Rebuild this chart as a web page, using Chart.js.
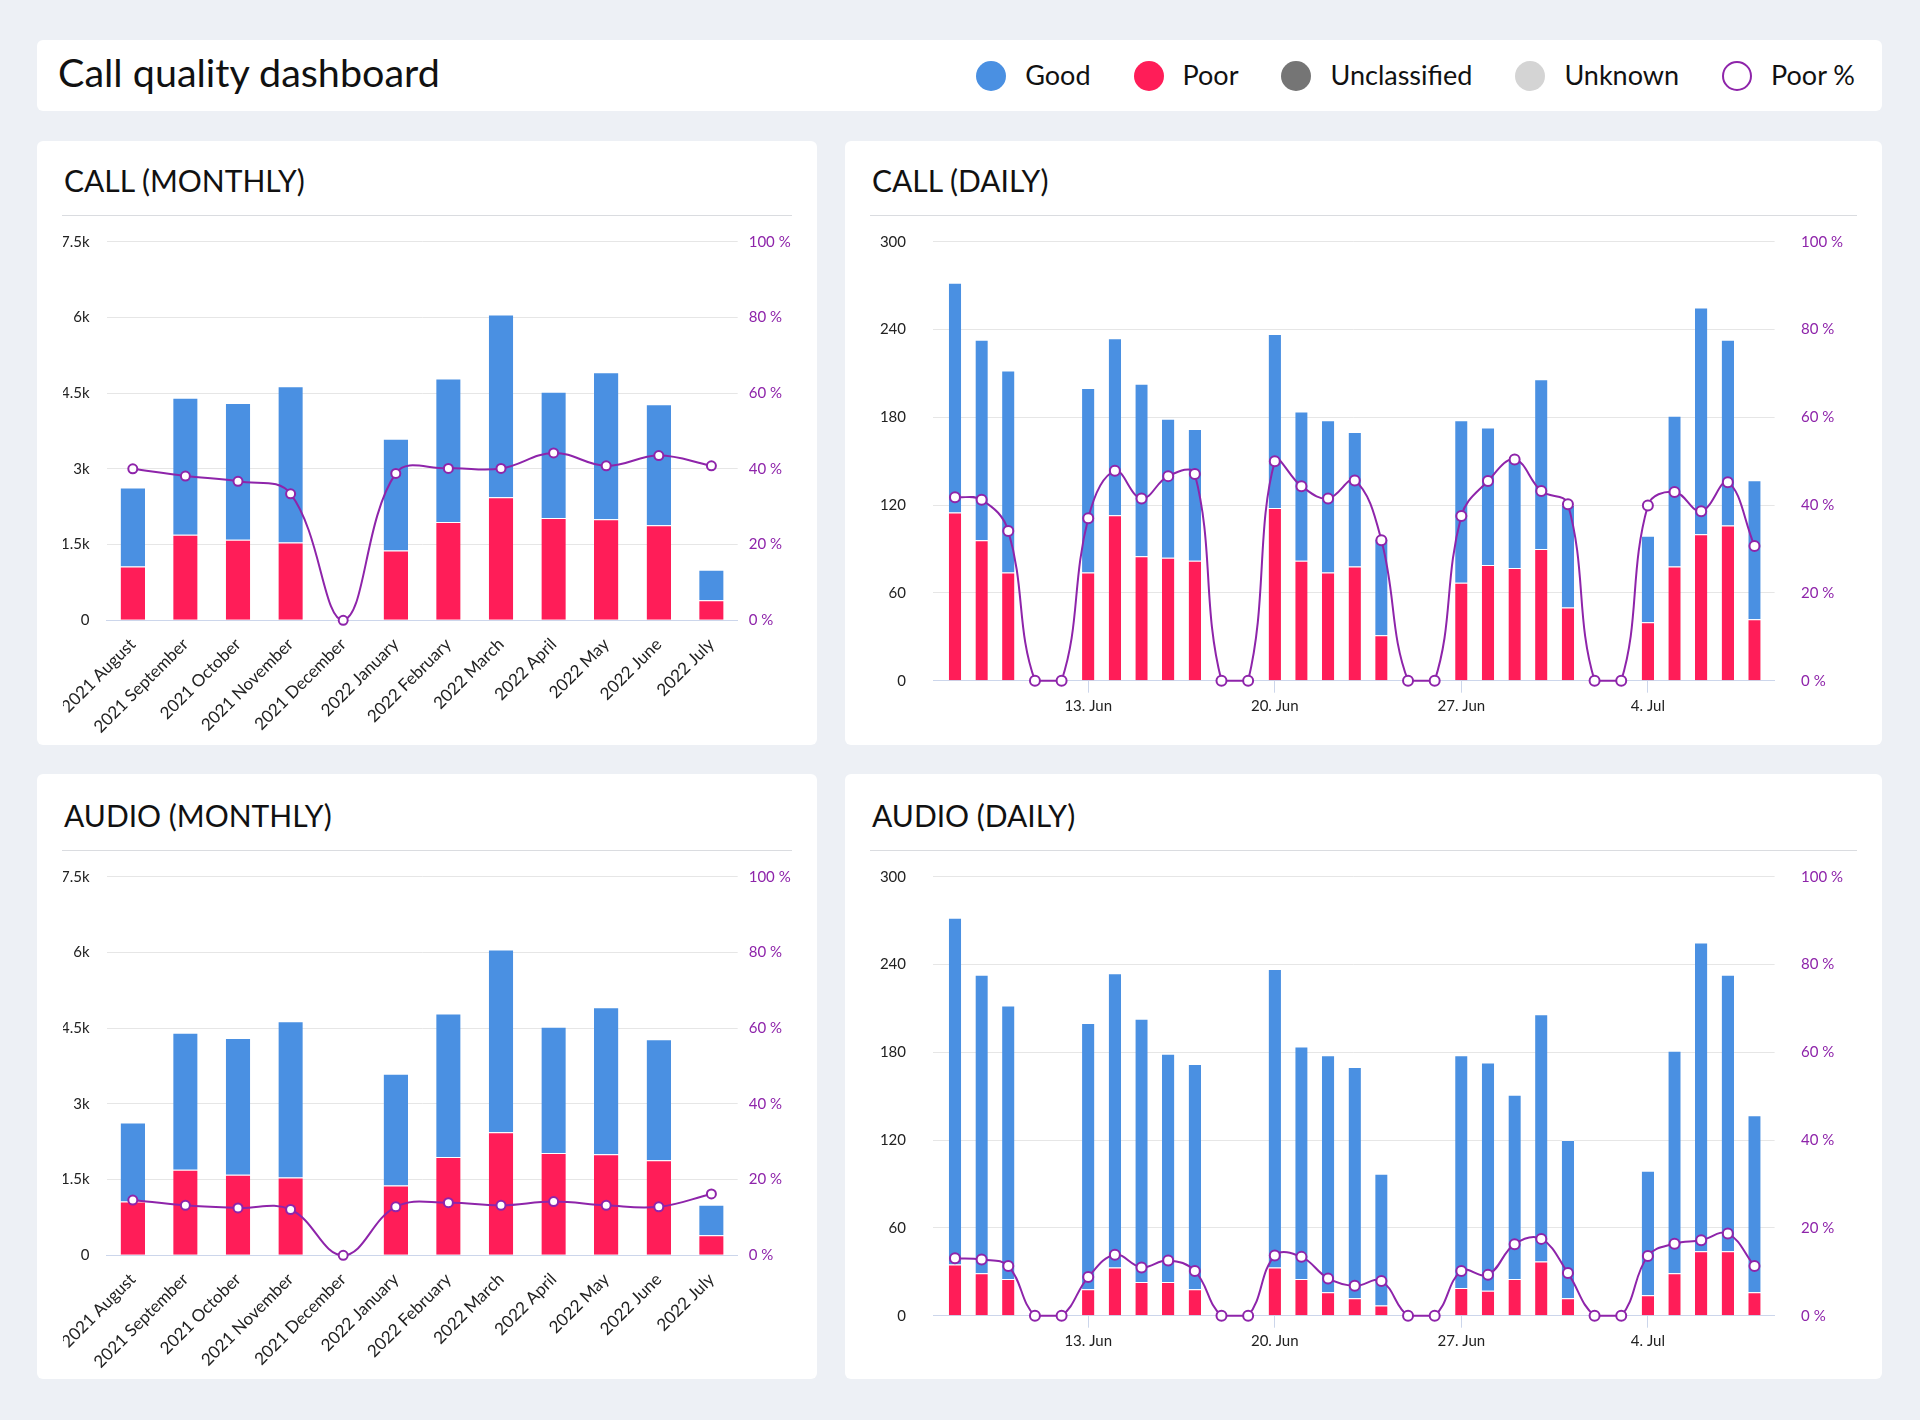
<!DOCTYPE html>
<html>
<head>
<meta charset="utf-8">
<script src="https://cdn.jsdelivr.net/npm/chart.js@4.4.1/dist/chart.umd.min.js"></script>
<style>
  body { margin: 0; width: 1920px; height: 1420px; background: #edf0f5; font-family: Lato, "Noto Sans", sans-serif; position: relative; overflow: hidden; }
  .box { position: absolute; background: #fff; border-radius: 6px; }
  .header { left: 37px; top: 40px; width: 1845px; height: 71px; }
  .header h1 { position: absolute; left: 21px; top: 8px; margin: 0; font-size: 39.5px; line-height: 48px; font-weight: 400; color: #111; }
  .legend { position: absolute; right: 27px; top: 18px; height: 32px; display: flex; align-items: center; }
  .legend .item { display: flex; align-items: center; margin-left: 43px; font-size: 27px; color: #111; }
  .legend .dot { width: 30px; height: 30px; border-radius: 50%; margin-right: 19px; position: relative; top: 2px; box-sizing: border-box; }
  .panel h2 { position: absolute; left: 27px; top: 21px; margin: 0; font-size: 30px; line-height: 36px; font-weight: 400; color: #111; }
  .panel .sep { position: absolute; left: 25px; right: 25px; top: 74px; height: 1px; background: #dadce0; }
  .panel canvas { position: absolute; left: 26px; top: 86px; }
  .panel.low h2 { top: 23px; }
  .panel.low .sep { top: 76px; }
  .panel.low canvas { top: 88px; }
</style>
</head>
<body>
<div class="box header">
  <h1>Call quality dashboard</h1>
  <div class="legend">
    <div class="item"><span class="dot" style="background:#4a90e2"></span>Good</div>
    <div class="item"><span class="dot" style="background:#ff1d58"></span>Poor</div>
    <div class="item"><span class="dot" style="background:#757575"></span>Unclassified</div>
    <div class="item"><span class="dot" style="background:#d4d4d4"></span>Unknown</div>
    <div class="item"><span class="dot" style="border:2px solid #8e24aa"></span>Poor %</div>
  </div>
</div>
<div class="box panel" style="left:37px;top:141px;width:780px;height:604px">
  <h2>CALL (MONTHLY)</h2><div class="sep"></div>
  <canvas id="callMonthly" width="728" height="514"></canvas>
</div>
<div class="box panel" style="left:845px;top:141px;width:1037px;height:604px">
  <h2>CALL (DAILY)</h2><div class="sep"></div>
  <canvas id="callDaily" width="985" height="514"></canvas>
</div>
<div class="box panel low" style="left:37px;top:774px;width:780px;height:605px">
  <h2>AUDIO (MONTHLY)</h2><div class="sep"></div>
  <canvas id="audioMonthly" width="728" height="514"></canvas>
</div>
<div class="box panel low" style="left:845px;top:774px;width:1037px;height:605px">
  <h2>AUDIO (DAILY)</h2><div class="sep"></div>
  <canvas id="audioDaily" width="985" height="514"></canvas>
</div>
<script>
// monthly data
const months = ['2021 August', '2021 September', '2021 October', '2021 November', '2021 December', '2022 January',
  '2022 February', '2022 March', '2022 April', '2022 May', '2022 June', '2022 July'];
const monthlyPoor = [1066, 1695, 1596, 1543, 0, 1384, 1947, 2437, 2026, 2000, 1881, 397];
const monthlyGood = [1564, 2716, 2707, 3092, 0, 2212, 2841, 3623, 2504, 2913, 2397, 603];
const callMonthlyPct = [40.0, 38.1, 36.7, 33.4, 0, 38.8, 40.1, 40.1, 44.2, 40.8, 43.5, 40.8];
const audioMonthlyPct = [14.6, 13.2, 12.5, 12.1, 0, 12.8, 13.9, 13.2, 14.2, 13.2, 12.8, 16.2];
const monthlyCountTicks = ['0', '1.5k', '3k', '4.5k', '6k', '7.5k'];

// daily data (8 Jun - 8 Jul)
const days = ['8. Jun', '9. Jun', '10. Jun', '11. Jun', '12. Jun', '13. Jun', '14. Jun', '15. Jun', '16. Jun', '17. Jun',
  '18. Jun', '19. Jun', '20. Jun', '21. Jun', '22. Jun', '23. Jun', '24. Jun', '25. Jun', '26. Jun', '27. Jun',
  '28. Jun', '29. Jun', '30. Jun', '1. Jul', '2. Jul', '3. Jul', '4. Jul', '5. Jul', '6. Jul', '7. Jul', '8. Jul'];
const dayTicks = ['13. Jun', '20. Jun', '27. Jun', '4. Jul'];
const callDailyPoor = [115, 96, 74, 0, 0, 74, 113, 85, 84, 82, 0, 0, 118, 82, 74, 78, 31, 0, 0, 67, 79, 77, 90, 50, 0, 0, 40, 78, 100, 106, 42];
const callDailyGood = [157, 137, 138, 0, 0, 126, 121, 118, 95, 90, 0, 0, 119, 102, 104, 92, 66, 0, 0, 111, 94, 74, 116, 70, 0, 0, 59, 103, 155, 127, 95];
const callDailyPct = [41.8, 41.2, 34.1, 0, 0, 37.0, 47.8, 41.5, 46.6, 47.1, 0, 0, 50.0, 44.3, 41.5, 45.6, 32.0, 0, 0, 37.5, 45.5, 50.4, 43.2, 40.2, 0, 0, 39.9, 43.0, 38.6, 45.2, 30.7];
const audioDailyPoor = [35, 29, 25, 0, 0, 18, 33, 23, 23, 18, 0, 0, 33, 25, 16, 12, 7, 0, 0, 19, 17, 25, 37, 12, 0, 0, 14, 29, 44, 44, 16];
const audioDailyGood = [237, 204, 187, 0, 0, 182, 201, 180, 156, 154, 0, 0, 204, 159, 162, 158, 90, 0, 0, 159, 156, 126, 169, 108, 0, 0, 85, 152, 211, 189, 121];
const audioDailyPct = [13.1, 12.8, 11.3, 0, 0, 8.8, 13.9, 11.0, 12.6, 10.2, 0, 0, 13.7, 13.4, 8.5, 6.8, 7.9, 0, 0, 10.2, 9.3, 16.3, 17.5, 9.7, 0, 0, 13.6, 16.4, 17.2, 18.7, 11.3];
const dailyCountTicks = ['0', '60', '120', '180', '240', '300'];
const pctTicks = ['0 %', '20 %', '40 %', '60 %', '80 %', '100 %'];

const BLUE = '#4a90e2', RED = '#ff1d58', PURPLE = '#8e24aa', AXIS = '#ccd6eb', GRID = '#e6e6e6';
Chart.defaults.font.family = 'Lato, "Noto Sans", sans-serif';
Chart.defaults.font.size = 15;

function series(poor, good, pct, xs, radius) {
  const pts = arr => xs ? arr.map((v, i) => ({x: i, y: v})) : arr;
  return [
    {type: 'line', label: 'Poor %', data: pts(pct), yAxisID: 'yPct', order: 0, clip: false,
      borderColor: PURPLE, borderWidth: 2, tension: 0.4,
      pointRadius: radius, pointBackgroundColor: '#fff', pointBorderColor: PURPLE, pointBorderWidth: 2},
    {label: 'Poor', data: pts(poor), backgroundColor: RED, order: 1},
    {label: 'Good', data: pts(good), backgroundColor: BLUE, order: 1}
  ];
}

// fixed axis widths so the plot area sits where the reference has it
function fixWidth(w) {
  return s => { s.width = w; s.paddingTop = 0; s.paddingBottom = 0; };
}

function yAxes(max, step, labels, leftW, rightW, leftPad, rightPad) {
  return {
    y: {stacked: true, min: 0, max: max,
      border: {display: false},
      grid: {drawTicks: false, color: c => c.tick && c.tick.value === 0 ? 'rgba(0,0,0,0)' : GRID},
      ticks: {stepSize: step, padding: leftPad, color: '#222', callback: (v, i) => labels[i]},
      afterFit: fixWidth(leftW)},
    yPct: {position: 'right', min: 0, max: 100,
      border: {display: false},
      grid: {display: false, drawTicks: false},
      ticks: {stepSize: 20, padding: rightPad, color: PURPLE, callback: (v, i) => pctTicks[i]},
      afterFit: fixWidth(rightW)}
  };
}

const common = {
  responsive: false, animation: false,
  layout: {padding: {top: 14.7}},
  plugins: {legend: {display: false}, tooltip: {enabled: false}},
  datasets: {bar: {categoryPercentage: 0.8, barPercentage: 0.58,
    borderColor: 'rgba(255,255,255,0.6)', borderWidth: {top: 1}, borderSkipped: 'start'}}
};

function monthly(id, pct) {
  new Chart(document.getElementById(id), {
    type: 'bar',
    data: {labels: months, datasets: series(monthlyPoor, monthlyGood, pct, false, 4.5)},
    options: Object.assign({}, common, {
      scales: Object.assign({
        x: {stacked: true,
          grid: {display: false, drawTicks: false},
          border: {color: AXIS},
          ticks: {minRotation: 45, maxRotation: 45, autoSkip: false, padding: 14, color: '#222', font: {size: 17}},
          afterFit: s => { s.height = 120.7; s.paddingLeft = 0; s.paddingRight = 0; }}
      }, yAxes(7500, 1500, monthlyCountTicks, 43.5, 53.3, 17, 11))
    })
  });
}

function daily(id, poor, good, pct) {
  new Chart(document.getElementById(id), {
    type: 'bar',
    data: {datasets: series(poor, good, pct, true, 5)},
    options: Object.assign({}, common, {
      scales: Object.assign({
        x: {type: 'linear', stacked: true, offset: false, min: -0.825, max: 30.755,
          grid: {drawOnChartArea: false, drawTicks: true, tickLength: 12, color: AXIS, offset: false},
          border: {color: AXIS},
          afterBuildTicks: s => { s.ticks = dayTicks.map(d => ({value: days.indexOf(d)})); },
          ticks: {maxRotation: 0, autoSkip: false, padding: 4, color: '#222', callback: v => days[v]},
          afterFit: s => { s.height = 60.3; s.paddingLeft = 0; s.paddingRight = 0; }}
      }, yAxes(300, 60, dailyCountTicks, 62, 81.4, 27, 26.5))
    })
  });
}

monthly('callMonthly', callMonthlyPct);
daily('callDaily', callDailyPoor, callDailyGood, callDailyPct);
monthly('audioMonthly', audioMonthlyPct);
daily('audioDaily', audioDailyPoor, audioDailyGood, audioDailyPct);
</script>
</body>
</html>
